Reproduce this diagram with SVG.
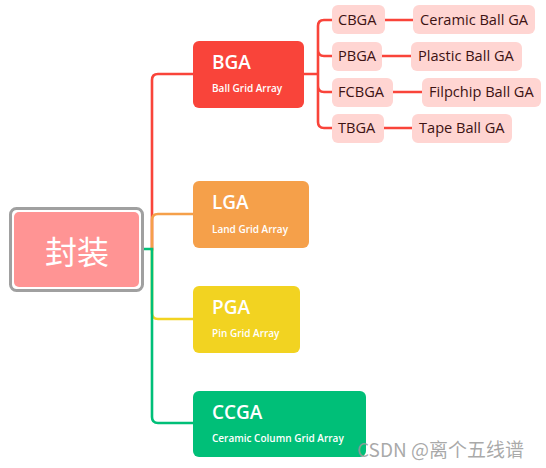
<svg xmlns="http://www.w3.org/2000/svg" width="546" height="468" viewBox="0 0 546 468">
<style>
.t{font-family:"Open Sans","Liberation Sans",sans-serif;fill:#fff}
.h{font-size:19px;font-weight:600}
.s{font-size:10px;font-weight:600}
.c{font-family:"Open Sans","Liberation Sans",sans-serif;font-size:14.6px;fill:#3d1212}
.sub{fill:#FFD5D2}
.ln{fill:none;stroke-width:2.6;stroke-linecap:round}
</style>
<rect width="546" height="468" fill="#fff"/>
<g id="connectors">
<path class="ln" stroke="#F9443A" d="M152,250 V80 Q152,74 158,74 H193"/>
<path class="ln" stroke="#F5A04A" d="M152,250 V220 Q152,214 158,214 H193"/>
<path class="ln" stroke="#F2D321" d="M152,250 V313 Q152,319 158,319 H193"/>
<path class="ln" stroke="#00BF78" d="M139,249 H152 V417 Q152,423 158,423 H193"/>
<path class="ln" stroke="#F9443A" d="M304,74 H318 M332,20 H324 Q318,20 318,26 V122 Q318,128 324,128 H332 M318,86 Q318,92 324,92 H332 M318,50 Q318,56 324,56 H332"/>
<path class="ln" stroke="#F9443A" d="M385,20 H413 M382,56 H411 M393,92 H422 M384,128 H412"/>
</g>
<g id="root">
<rect x="10.5" y="208.5" width="132" height="82" rx="6" fill="#fff" stroke="#A0A0A0" stroke-width="3"/>
<rect x="14" y="212" width="125" height="75" rx="5" fill="#FF9494"/>
<text x="77" y="264" text-anchor="middle" font-family="'Noto Sans CJK SC',sans-serif" font-size="32" fill="#fff">封装</text>
</g>
<g id="bga">
<rect x="193" y="41" width="111" height="67" rx="6" fill="#F9443A"/>
<text class="t h" x="212" y="69">BGA</text>
<text class="t s" x="212" y="92">Ball Grid Array</text>
</g>
<g id="lga">
<rect x="193" y="181" width="116" height="67" rx="6" fill="#F5A04A"/>
<text class="t h" x="212" y="209">LGA</text>
<text class="t s" x="212" y="233">Land Grid Array</text>
</g>
<g id="pga">
<rect x="193" y="286" width="107" height="67" rx="6" fill="#F2D321"/>
<text class="t h" x="212" y="314">PGA</text>
<text class="t s" x="212" y="337">Pin Grid Array</text>
</g>
<g id="ccga">
<rect x="193" y="391" width="173" height="66" rx="6" fill="#00BF78"/>
<text class="t h" x="212" y="419">CCGA</text>
<text class="t s" x="212" y="442">Ceramic Column Grid Array</text>
</g>
<g id="cbga"><rect class="sub" x="332" y="5" width="53" height="29" rx="6"/><text class="c" x="338" y="25">CBGA</text></g>
<g id="pbga"><rect class="sub" x="332" y="42" width="50" height="29" rx="6"/><text class="c" x="338" y="61">PBGA</text></g>
<g id="fcbga"><rect class="sub" x="332" y="78" width="61" height="29" rx="6"/><text class="c" x="338" y="97">FCBGA</text></g>
<g id="tbga"><rect class="sub" x="332" y="114" width="52" height="29" rx="6"/><text class="c" x="338" y="133">TBGA</text></g>
<g id="ceramic"><rect class="sub" x="413" y="5" width="122" height="29" rx="6"/><text class="c" x="420" y="25">Ceramic Ball GA</text></g>
<g id="plastic"><rect class="sub" x="411" y="42" width="111" height="29" rx="6"/><text class="c" x="418" y="61">Plastic Ball GA</text></g>
<g id="filpchip"><rect class="sub" x="422" y="78" width="119" height="29" rx="6"/><text class="c" x="429" y="97">Filpchip Ball GA</text></g>
<g id="tape"><rect class="sub" x="412" y="114" width="100" height="29" rx="6"/><text class="c" x="419" y="133">Tape Ball GA</text></g>
<text x="357" y="457" font-family="'Noto Sans CJK SC',sans-serif" font-size="19" fill="#9a9a9a" fill-opacity="0.85">CSDN @离个五线谱</text>
</svg>
